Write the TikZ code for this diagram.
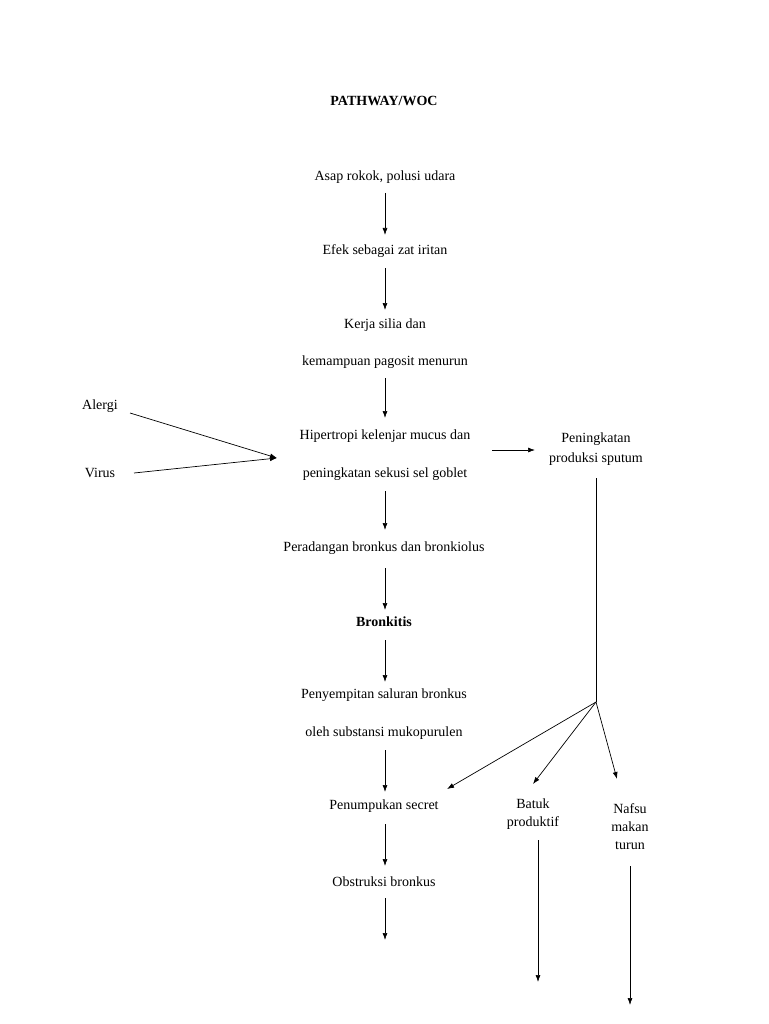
\documentclass[tikz,border=0pt]{standalone}
\usepackage{fontspec}
\setmainfont{Liberation Serif}
\usetikzlibrary{arrows.meta}
\begin{document}
\begin{tikzpicture}[x=1pt,y=-1pt,
  t/.style={inner sep=0pt,font=\fontsize{14}{16}\selectfont,align=center},
  a/.style={-{Latex[length=7pt,width=5pt]},line width=0.7pt},
  l/.style={line width=0.7pt}]
\useasboundingbox (0,0) rectangle (768,1024);
\node[t,font=\fontsize{14}{16}\selectfont\bfseries] (title) at (384,101) {PATHWAY/WOC};
\node[t] (n1) at (385,177) {Asap rokok, polusi udara};
\node[t] (n2) at (385,251) {Efek sebagai zat iritan};
\node[t] (n3a) at (385,325) {Kerja silia dan};
\node[t] (n3b) at (385,362) {kemampuan pagosit menurun};
\node[t] (n4a) at (385,436) {Hipertropi kelenjar mucus dan};
\node[t] (n4b) at (385,474) {peningkatan sekusi sel goblet};
\node[t] (al) at (100,406) {Alergi};
\node[t] (vi) at (100,473) {Virus};
\node[t] (ps) at (596,449) {Peningkatan\\[4pt]produksi sputum};
\node[t] (n5) at (384,548) {Peradangan bronkus dan bronkiolus};
\node[t,font=\fontsize{14}{16}\selectfont\bfseries] (n6) at (384,622) {Bronkitis};
\node[t] (n7a) at (384,695) {Penyempitan saluran bronkus};
\node[t] (n7b) at (384,733) {oleh substansi mukopurulen};
\node[t] (n8) at (384,806) {Penumpukan secret};
\node[t] (n9) at (384,882) {Obstruksi bronkus};
\node[t] (bp) at (533,814) {Batuk\\[2pt]produktif};
\node[t] (nm) at (630,827) {Nafsu\\[2pt]makan\\[2pt]turun};
\coordinate (h) at (277,458);
\coordinate (sp) at (596,702);
\coordinate (e1) at (385,940);
\coordinate (e2) at (538,982);
\coordinate (e3) at (630,1005);
\draw[a] (385,193) -- (385,235);
\draw[a] (385,268) -- (385,310);
\draw[a] (385,378) -- (385,418);
\draw[a] (130,413) -- (h);
\draw[a] (134,473) -- (h);
\draw[a] (492,450) -- (535,450);
\draw[l] (596,478) -- (sp);
\draw[a] (385,491) -- (385,530);
\draw[a] (385,568) -- (385,610);
\draw[a] (385,640) -- (385,682);
\draw[a] (385,750) -- (385,792);
\draw[a] (385,824) -- (385,866);
\draw[a] (385,898) -- (e1);
\draw[a] (sp) -- (447,789);
\draw[a] (sp) -- (533,784);
\draw[a] (sp) -- (617,779);
\draw[a] (538,840) -- (e2);
\draw[a] (630,866) -- (e3);
\end{tikzpicture}
\end{document}
